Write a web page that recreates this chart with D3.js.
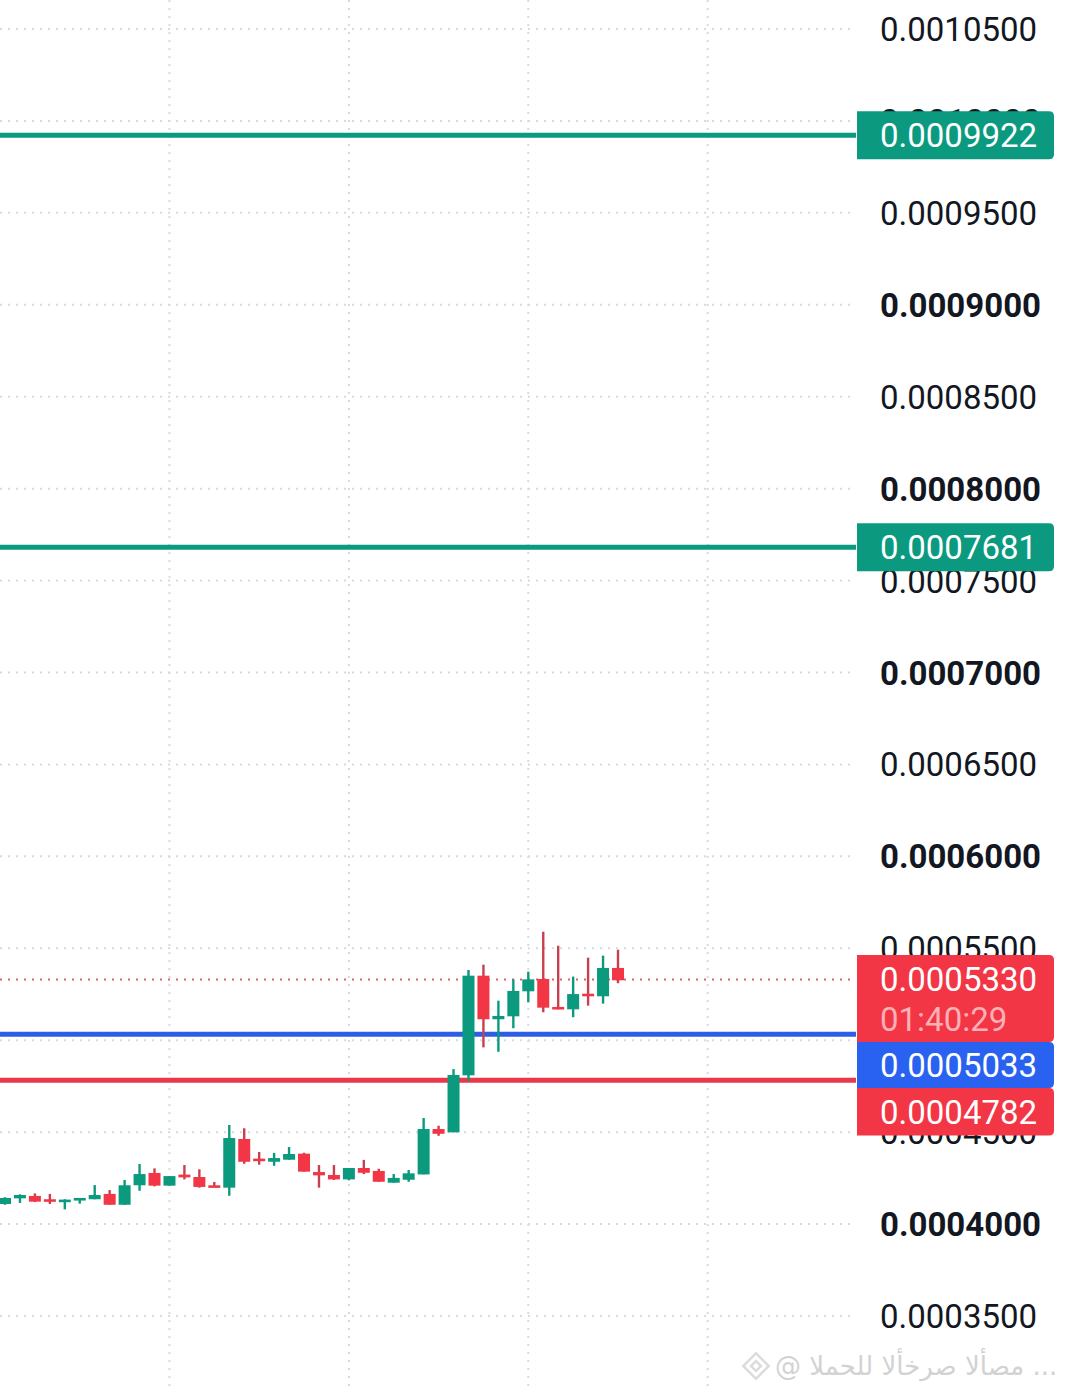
<!DOCTYPE html>
<html>
<head>
<meta charset="utf-8">
<style>
html, body { margin: 0; padding: 0; background: #fff; overflow: hidden; }
svg { display: block; }
text { font-family: Roboto, sans-serif; }
</style>
<script src="https://d3js.org/d3.v7.min.js"></script>
</head>
<body>
<div id="chart"></div>
<script>
// candles, oldest first
const opens  = [0.0004109,0.0004140,0.0004153,0.0004135,0.0004126,0.0004135,0.0004135,0.0004164,0.0004105,0.0004211,0.0004278,0.0004209,0.0004269,0.0004256,0.0004211,0.0004198,0.0004463,0.0004356,0.0004339,0.0004350,0.0004383,0.0004283,0.0004267,0.0004243,0.0004305,0.0004289,0.0004225,0.0004241,0.0004270,0.0004517,0.0004499,0.0004809,0.0005351,0.0005114,0.0005130,0.0005266,0.0005333,0.0005181,0.0005168,0.0005253,0.0005239,0.0005393];
const highs  = [0.0004146,0.0004162,0.0004167,0.0004164,0.0004135,0.0004142,0.0004212,0.0004185,0.0004240,0.0004327,0.0004303,0.0004261,0.0004321,0.0004298,0.0004229,0.0004539,0.0004521,0.0004392,0.0004387,0.0004419,0.0004388,0.0004321,0.0004321,0.0004305,0.0004349,0.0004301,0.0004272,0.0004294,0.0004577,0.0004535,0.0004843,0.0005382,0.0005411,0.0005215,0.0005331,0.0005373,0.0005590,0.0005514,0.0005346,0.0005449,0.0005460,0.0005492];
const lows   = [0.0004105,0.0004115,0.0004120,0.0004109,0.0004080,0.0004111,0.0004135,0.0004105,0.0004105,0.0004181,0.0004205,0.0004209,0.0004243,0.0004198,0.0004203,0.0004154,0.0004328,0.0004323,0.0004317,0.0004350,0.0004285,0.0004198,0.0004240,0.0004238,0.0004272,0.0004230,0.0004225,0.0004230,0.0004270,0.0004480,0.0004499,0.0004778,0.0004961,0.0004937,0.0005065,0.0005206,0.0005152,0.0005168,0.0005125,0.0005188,0.0005199,0.0005310];
const closes = [0.0004142,0.0004158,0.0004122,0.0004126,0.0004133,0.0004142,0.0004158,0.0004105,0.0004211,0.0004272,0.0004209,0.0004261,0.0004254,0.0004202,0.0004203,0.0004468,0.0004339,0.0004345,0.0004359,0.0004381,0.0004285,0.0004265,0.0004243,0.0004305,0.0004279,0.0004230,0.0004251,0.0004276,0.0004517,0.0004491,0.0004811,0.0005351,0.0005114,0.0005132,0.0005268,0.0005331,0.0005177,0.0005168,0.0005251,0.0005242,0.0005393,0.0005326];

const priceTicks = [0.00105,0.001,0.00095,0.0009,0.00085,0.0008,0.00075,0.0007,0.00065,0.0006,0.00055,0.0005,0.00045,0.0004,0.00035];
const boldTicks = [0.001,0.0009,0.0008,0.0007,0.0006,0.0005,0.0004];
const timeTicks = [11,23,35,47];

const levelValues = [0.0009922,0.0007681,0.0005033,0.0004782];
const levelColors = ["#0b9a80","#0b9a80","#2c5fe6","#e8394b"];
const lastPrice = 0.000533;
const countdown = "01:40:29";
const watermark = "@ المحلل الأخرص الأصم ...";

const width = 1080;
const height = 1392;
const plotRight = 856;
const green = "#0b9a7d";
const red = "#f23645";

const svg = d3.select("#chart")
    .append("svg")
    .attr("width", width)
    .attr("height", height);

const y = d3.scaleLinear()
    .domain([0.00105, 0.00035])
    .range([29, 1316]);

const x = d3.scaleLinear()
    .domain([0, 41])
    .range([5, 618]);

/* GRID */
svg.append("g")
    .selectAll("line")
    .data(priceTicks)
    .enter()
    .append("line")
        .attr("x1", 0)
        .attr("x2", plotRight)
        .attr("y1", d => y(d))
        .attr("y2", d => y(d))
        .attr("stroke", "#d8dade")
        .attr("stroke-width", 2)
        .attr("stroke-dasharray", "2 6");

svg.append("g")
    .selectAll("line")
    .data(timeTicks)
    .enter()
    .append("line")
        .attr("x1", d => x(d))
        .attr("x2", d => x(d))
        .attr("y1", 0)
        .attr("y2", height)
        .attr("stroke", "#d8dade")
        .attr("stroke-width", 2)
        .attr("stroke-dasharray", "2 6");

/* PRICE AXIS */
const yAxis = svg.append("g")
    .attr("transform", "translate(880,1)")
    .call(d3.axisRight(y).tickValues(priceTicks).tickFormat(d3.format(".7f")).tickSize(0).tickPadding(0));

yAxis.select(".domain").remove();
yAxis.selectAll("text")
    .attr("font-size", 33)
    .attr("fill", "#131722")
    .attr("font-weight", d => boldTicks.includes(d) ? 700 : 400)
    .style("font-family", "Roboto, sans-serif");

/* LAST PRICE DOTTED LINE */
svg.append("line")
    .attr("x1", 0)
    .attr("x2", plotRight)
    .attr("y1", y(lastPrice))
    .attr("y2", y(lastPrice))
    .attr("stroke", "#e8606c")
    .attr("stroke-width", 2)
    .attr("stroke-dasharray", "2 6");

/* LEVEL LINES */
svg.append("g")
    .selectAll("line")
    .data(levelValues)
    .enter()
    .append("line")
        .attr("x1", 0)
        .attr("x2", plotRight)
        .attr("y1", d => y(d))
        .attr("y2", d => y(d))
        .attr("stroke", (d, i) => levelColors[i])
        .attr("stroke-width", 5);

/* CANDLES */
const candles = svg.append("g")
    .selectAll("g")
    .data(opens.map((d, i) => i))
    .enter()
    .append("g");

candles.append("line")
    .attr("x1", i => x(i))
    .attr("x2", i => x(i))
    .attr("y1", i => y(highs[i]))
    .attr("y2", i => y(lows[i]))
    .attr("stroke", i => closes[i] >= opens[i] ? green : "#c8404f")
    .attr("stroke-width", 2.4);

candles.append("rect")
    .attr("x", i => x(i) - 6)
    .attr("width", 12)
    .attr("y", i => y(Math.max(opens[i], closes[i])))
    .attr("height", i => Math.max(2.6, Math.abs(y(opens[i]) - y(closes[i]))))
    .attr("fill", i => closes[i] >= opens[i] ? green : red);

/* PRICE LABELS */
function labelPath(top, bottom) {
    const r = 5;
    return `M857,${top}H${1054 - r}Q1054,${top} 1054,${top + r}V${bottom - r}Q1054,${bottom} ${1054 - r},${bottom}H857Z`;
}

const labels = svg.append("g");

function addLabel(value, color, top, bottom, textY) {
    labels.append("path")
        .attr("d", labelPath(top, bottom))
        .attr("fill", color);
    labels.append("text")
        .attr("x", 880)
        .attr("y", textY)
        .attr("dy", "0.36em")
        .attr("font-size", 33)
        .attr("fill", "#fff")
        .text(d3.format(".7f")(value));
}

addLabel(levelValues[0], levelColors[0], y(levelValues[0]) - 24, y(levelValues[0]) + 24, y(levelValues[0]));
addLabel(levelValues[1], levelColors[1], y(levelValues[1]) - 24, y(levelValues[1]) + 24, y(levelValues[1]));
addLabel(lastPrice, red, 955, 1042, 979);
labels.append("text")
    .attr("x", 880)
    .attr("y", 1019)
    .attr("dy", "0.36em")
    .attr("font-size", 33)
    .attr("fill", "#fbb0b6")
    .text(countdown);
addLabel(levelValues[3], red, 1088, 1135.5, 1112);
addLabel(levelValues[2], "#2962f0", 1042, 1088, 1065);

/* WATERMARK */
const mark = svg.append("g")
    .attr("transform", "translate(756,1366)")
    .attr("fill", "none")
    .attr("stroke", "#dcdcdc")
    .attr("stroke-width", 2.5);

mark.append("rect")
    .attr("x", -9).attr("y", -9).attr("width", 18).attr("height", 18)
    .attr("transform", "rotate(45)");
mark.append("rect")
    .attr("x", -3.5).attr("y", -3.5).attr("width", 7).attr("height", 7)
    .attr("transform", "rotate(45)");

svg.append("text")
    .attr("x", 775)
    .attr("y", 1375)
    .attr("font-size", 26)
    .attr("letter-spacing", 1.9)
    .attr("fill", "#d2d2d2")
    .style("font-family", "'DejaVu Sans', sans-serif")
    .style("unicode-bidi", "bidi-override")
    .style("direction", "ltr")
    .text(watermark);
</script>
</body>
</html>
